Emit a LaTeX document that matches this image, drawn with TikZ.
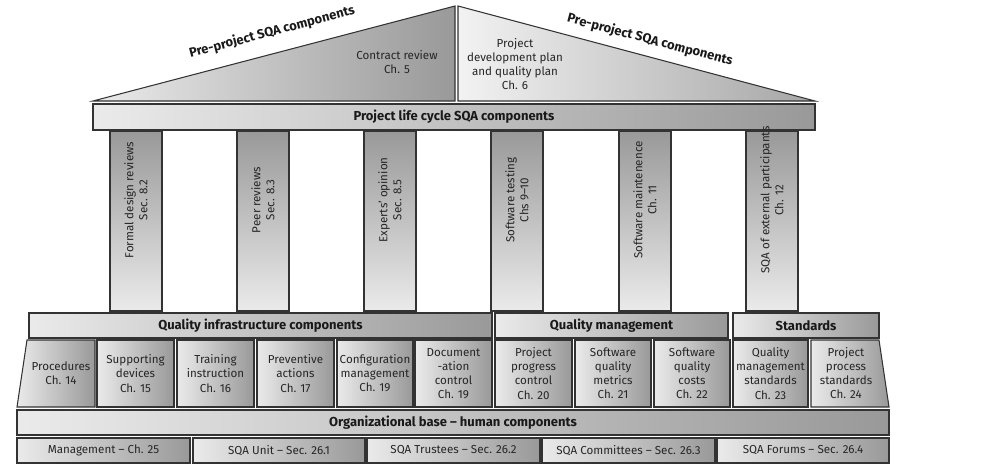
\documentclass[tikz,border=0pt]{standalone}
\usepackage{fontspec}
\setmainfont{Fira Sans}
\usetikzlibrary{positioning}
\tikzset{
    % shaded boxes
    hbox/.style={draw=black!80, line width=0.6pt, shading=axis, left color=black!8, right color=black!40},
    vbox/.style={draw=black!80, line width=0.6pt, shading=axis, top color=black!40, bottom color=black!8},
    lbl/.style={font=\fontsize{6.6}{8}\selectfont, align=center, text=black!85},
    bold/.style={font=\bfseries\fontsize{7.4}{9}\selectfont, text=black!90}
}
\newcommand{\barbox}[5]{% name, x1, y1, x2, y2
  \node[hbox, inner sep=0pt, minimum width={(#4-#2)*0.02cm}, minimum height={(#5-#3)*0.02cm}] (#1) at ({(#2+#4)/2},{(#3+#5)/2}) {};}

\begin{document}
\begin{tikzpicture}[x=0.02cm, y=-0.02cm]
\useasboundingbox (0,0) rectangle (982,473);

% roof
\path[hbox] (93,101) -- (455,6) -- (455,101) -- cycle;
\path[hbox, left color=black!5, right color=black!35] (458,6) -- (815,101) -- (458,101) -- cycle;
\node[bold, rotate=14.8] (preleft) at (272,32) {Pre-project SQA components};
\node[bold, rotate=-14.8] (preright) at (650,40) {Pre-project SQA components};
\node[lbl] (contract) at (397,62) {Contract review\\Ch. 5};
\node[lbl] (devplan) at (515,64) {Project\\development plan\\and quality plan\\Ch. 6};

% life cycle bar
\barbox{lifecycle}{93}{104}{815}{130}
\node[bold] at (lifecycle) {Project life cycle SQA components};

% pillars
\foreach \x/\t [count=\i] in {136/{Formal design reviews\\Sec. 8.2},
                              263/{Peer reviews\\Sec. 8.3},
                              390/{Experts' opinion\\Sec. 8.5},
                              517/{Software testing\\Chs 9--10},
                              645/{Software maintenence\\Ch. 11},
                              772/{SQA of external participants\\Ch. 12}}{
  \node[vbox, minimum width=52*0.02cm, minimum height=180*0.02cm, inner sep=0pt] (pillar\i) at (\x,221) {};
  \node[lbl, rotate=90] (ptext\i) at (\x,200) {\t};
}

% component headers
\barbox{infra}{29}{313}{492}{338}
\node[bold] at (infra) {Quality infrastructure components};
\barbox{qmgmt}{495}{313}{728}{338}
\node[bold] at (qmgmt) {Quality management};
\barbox{stds}{733}{313}{879}{338}
\node[bold] at (stds) {Standards};

% component row
\path[hbox] (27,340) -- (95,340) -- (95,407) -- (17,407) -- cycle;
\node[lbl] (proc) at (61,373) {Procedures\\Ch. 14};
\path[hbox] (811,340) -- (879,340) -- (889,407) -- (811,407) -- cycle;
\node[lbl] (pstd) at (846,373) {Project\\process\\standards\\Ch. 24};
\foreach \a/\b/\t [count=\i] in {97/174/{Supporting\\devices\\Ch. 15},
                                 177/254/{Training\\instruction\\Ch. 16},
                                 257/334/{Preventive\\actions\\Ch. 17},
                                 337/413/{Configuration\\management\\Ch. 19},
                                 415/492/{Document\\-ation\\control\\Ch. 19},
                                 495/572/{Project\\progress\\control\\Ch. 20},
                                 575/651/{Software\\quality\\metrics\\Ch. 21},
                                 654/730/{Software\\quality\\costs\\Ch. 22},
                                 733/808/{Quality\\management\\standards\\Ch. 23}}{
  \barbox{comp\i}{\a}{340}{\b}{407}
  \node[lbl] at (comp\i) {\t};
}

% organizational base
\barbox{orgbase}{17}{410}{889}{435}
\node[bold] at (orgbase) {Organizational base -- human components};
\foreach \a/\b/\t [count=\i] in {17/190/{Management -- Ch. 25},
                                 193/365/{SQA Unit -- Sec. 26.1},
                                 367/540/{SQA Trustees -- Sec. 26.2},
                                 542/715/{SQA Committees -- Sec. 26.3},
                                 717/889/{SQA Forums -- Sec. 26.4}}{
  \barbox{human\i}{\a}{438}{\b}{463}
  \node[lbl] at (human\i) {\t};
}
\end{tikzpicture}
\end{document}
